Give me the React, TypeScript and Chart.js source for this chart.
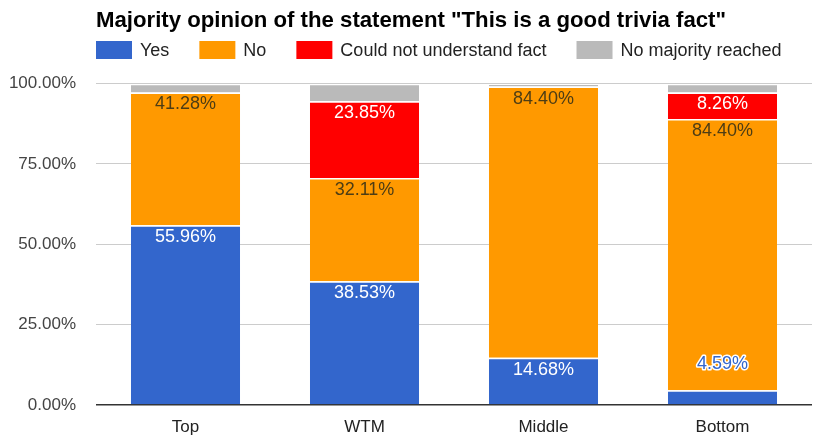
import React, { useEffect, useRef } from "react";
import { Chart, registerables } from "chart.js";

Chart.register(...registerables);

const categories = ["Top", "WTM", "Middle", "Bottom"];
const yesValues = [55.96, 38.53, 14.68, 4.59];
const noValues = [41.28, 32.11, 84.4, 84.4];
const couldNotValues = [0, 23.85, 0, 8.26];
const noMajorityValues = [2.76, 5.51, 0.92, 2.75];
const seriesNames = ["Yes", "No", "Could not understand fact", "No majority reached"];
const seriesColors = ["#3366cc", "#ff9900", "#ff0000", "#bababa"];
const labelColors = ["#ffffff", "#4d3d14", "#ffffff", null];
const titleText = 'Majority opinion of the statement "This is a good trivia fact"';

const FONT = "'Liberation Sans', Arial, sans-serif";

const segLabels = {
  id: "segLabels",
  afterDatasetsDraw(chart: any) {
    const ctx = chart.ctx;
    ctx.save();
    ctx.font = `18px ${FONT}`;
    ctx.textAlign = "center";
    ctx.textBaseline = "middle";
    chart.data.datasets.forEach((ds: any, di: number) => {
      const col = labelColors[di];
      if (!col) return;
      const meta = chart.getDatasetMeta(di);
      meta.data.forEach((bar: any, i: number) => {
        const v = ds.data[i];
        if (!v) return;
        const p = bar.getProps(["x", "y", "base"], true);
        const h = p.base - p.y;
        const text = v.toFixed(2) + "%";
        if (h < 24) {
          const ty = p.y - 26;
          ctx.lineWidth = 3;
          ctx.strokeStyle = "#ffffff";
          ctx.lineJoin = "round";
          ctx.strokeText(text, p.x, ty);
          ctx.fillStyle = seriesColors[di];
          ctx.fillText(text, p.x, ty);
        } else {
          ctx.fillStyle = col;
          ctx.fillText(text, p.x, p.y + 12);
        }
      });
    });
    ctx.restore();
  },
};

const customLegend = {
  id: "customLegend",
  afterDraw(chart: any) {
    const ctx = chart.ctx;
    ctx.save();
    ctx.font = `18px ${FONT}`;
    ctx.textAlign = "left";
    ctx.textBaseline = "middle";
    let x = chart.chartArea.left;
    const boxTop = 41;
    const boxW = 36;
    const boxH = 18;
    chart.data.datasets.forEach((ds: any) => {
      ctx.fillStyle = ds.backgroundColor;
      ctx.fillRect(x, boxTop, boxW, boxH);
      ctx.fillStyle = "#222222";
      const tx = x + boxW + 8;
      ctx.fillText(ds.label, tx, boxTop + boxH / 2 + 1);
      x = tx + ctx.measureText(ds.label).width + 30;
    });
    ctx.restore();
  },
};

export default function App() {
  const ref = useRef<HTMLCanvasElement>(null);
  useEffect(() => {
    const values = [yesValues, noValues, couldNotValues, noMajorityValues];
    const chart = new Chart(ref.current!, {
      type: "bar",
      data: {
        labels: categories,
        datasets: values.map((d, i) => ({
          label: seriesNames[i],
          data: d,
          backgroundColor: seriesColors[i],
          borderColor: "#ffffff",
          borderWidth: { top: 1.5, bottom: 0, left: 0, right: 0 },
          borderSkipped: false,
          categoryPercentage: 1,
          barPercentage: 0.61,
        })),
      },
      options: {
        animation: false,
        responsive: false,
        maintainAspectRatio: false,
        layout: { padding: { left: 0, right: 6, top: 0, bottom: 4 } },
        plugins: {
          title: {
            display: true,
            text: titleText,
            align: "start",
            fullSize: false,
            color: "#000",
            font: { family: FONT, size: 22.2, weight: "bold" },
            padding: { top: 7.5, bottom: 49.5 },
          },
          legend: { display: false },
          tooltip: { enabled: false },
        },
        scales: {
          x: {
            stacked: true,
            afterFit: (s: any) => {
              s.height = 31;
            },
            grid: { display: false, drawTicks: false },
            border: { display: false },
            ticks: { color: "#222", font: { family: FONT, size: 17 }, padding: 12 },
          },
          y: {
            stacked: true,
            min: 0,
            max: 100,
            afterFit: (s: any) => {
              s.width = 96;
            },
            border: { display: false },
            grid: {
              color: (c: any) => (c.tick && c.tick.value === 0 ? "#333333" : "#cccccc"),
              lineWidth: (c: any) => (c.tick && c.tick.value === 0 ? 1.5 : 1),
              drawTicks: false,
            },
            ticks: {
              stepSize: 25,
              padding: 20,
              color: "#444",
              font: { family: FONT, size: 17 },
              callback: (v: any) => Number(v).toFixed(2) + "%",
            },
          },
        },
      },
      plugins: [segLabels, customLegend],
    });
    return () => chart.destroy();
  }, []);
  return (
    <div style={{ position: "fixed", left: 0, top: 0, width: 818, height: 440, background: "#fff" }}>
      <canvas ref={ref} width={818} height={440} style={{ width: 818, height: 440 }} />
    </div>
  );
}
